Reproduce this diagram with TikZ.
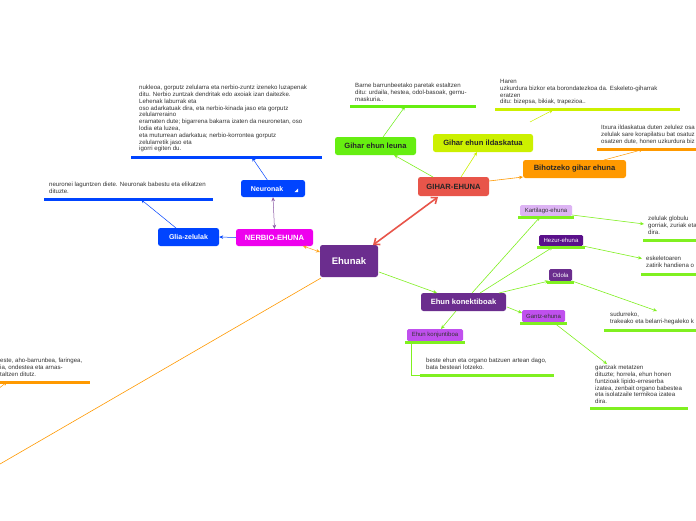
\documentclass[tikz,border=0pt]{standalone}
\usepackage{fontspec}
\setmainfont{Liberation Sans}
\usetikzlibrary{arrows.meta}
\definecolor{cpurple}{HTML}{6B2D8E}
\definecolor{cred}{HTML}{E8554A}
\definecolor{cgreen}{HTML}{66EE11}
\definecolor{cyell}{HTML}{CCF000}
\definecolor{corange}{HTML}{FF9900}
\definecolor{cmag}{HTML}{EE00EE}
\definecolor{cblue}{HTML}{0044FF}
\definecolor{clpur}{HTML}{C050EE}
\definecolor{cdpur}{HTML}{5A108A}
\definecolor{clav}{HTML}{DDB4F4}
\definecolor{cline}{HTML}{80F020}
\definecolor{ctext}{HTML}{333333}
\tikzset{
  box/.style={rounded corners=2.5pt, inner sep=0pt, font=\fontsize{7.6}{8}\selectfont\bfseries},
  sbox/.style={rounded corners=1.5pt, inner sep=0pt, font=\fontsize{6}{6.5}\selectfont, text=ctext},
  note/.style={anchor=north west, inner sep=0pt, align=left, text=ctext, font=\fontsize{6.1}{6.8}\selectfont},
  uline/.style={line width=3pt},
  arr/.style={-{Stealth[length=4pt,width=3.5pt]}, line width=0.6pt},
  darr/.style={{Stealth[length=4pt,width=3.5pt]}-{Stealth[length=4pt,width=3.5pt]}, line width=0.6pt},
}
\begin{document}
\begin{tikzpicture}[x=1pt,y=-1pt]
\useasboundingbox (0,0) rectangle (696,520);
\clip (0,0) rectangle (696,520);
\fill[white] (0,0) rectangle (696,520);

% main nodes
\node[box, fill=cpurple, text=white, minimum width=58pt, minimum height=32pt, font=\fontsize{9.5}{10}\selectfont\bfseries] (ehunak) at (349,261) {Ehunak};
\node[box, fill=cred, text=black!85, minimum width=71pt, minimum height=19pt] (gihar) at (453.5,186.5) {GIHAR-EHUNA};
\node[box, fill=cgreen, text=black!85, minimum width=81pt, minimum height=18pt] (leuna) at (375.5,146) {Gihar ehun leuna};
\node[box, fill=cyell, text=black!85, minimum width=100pt, minimum height=18pt] (ildas) at (483,143) {Gihar ehun ildaskatua};
\node[box, fill=corange, text=black!85, minimum width=103pt, minimum height=18pt] (bihotz) at (574.5,169) {Bihotzeko gihar ehuna};
\node[box, fill=cmag, text=white, minimum width=77pt, minimum height=17pt] (nerbio) at (274.5,237.5) {NERBIO-EHUNA};
\node[box, fill=cblue, text=white, minimum width=64pt, minimum height=17pt, font=\fontsize{7}{8}\selectfont\bfseries] (neuron) at (273,188.5) {\hspace*{-12pt}Neuronak};
\fill[white] (298,188.5) -- (298,192) -- (294.5,192) -- cycle;
\node[box, fill=cblue, text=white, minimum width=61pt, minimum height=18pt, font=\fontsize{7}{8}\selectfont\bfseries] (glia) at (188.5,237) {Glia-zelulak};
\node[box, fill=cpurple, text=white, minimum width=85pt, minimum height=18pt] (konek) at (463.5,302) {Ehun konektiboak};

% small nodes
\node[sbox, fill=clpur, minimum width=56pt, minimum height=12pt] (konj) at (435,335) {Ehun konjuntiboa};
\node[sbox, fill=clpur, minimum width=43pt, minimum height=12pt] (gantz) at (543.5,316) {Gantz-ehuna};
\node[sbox, fill=cpurple, text=white, minimum width=23pt, minimum height=12pt] (odola) at (560.5,275) {Odola};
\node[sbox, fill=cdpur, text=white, minimum width=44pt, minimum height=11pt] (hezur) at (561,240.5) {Hezur-ehuna};
\node[sbox, fill=clav, minimum width=52pt, minimum height=11pt] (karti) at (546,210.5) {Kartilago-ehuna};

% small node underlines
\draw[uline, cline] (405,342.5) -- (465,342.5);
\draw[uline, cline] (520,323.5) -- (567,323.5);
\draw[uline, cline] (547,282.5) -- (574,282.5);
\draw[uline, cline] (537,247.5) -- (585,247.5);
\draw[uline, cline] (518,217.5) -- (574,217.5);

% notes
\node[note] (nneur) at (139,85) {nukleoa, gorputz zelularra eta nerbio-zuntz izeneko luzapenak\\ditu. Nerbio zuntzak dendritak edo axoiak izan daitezke.\\Lehenak laburrak eta\\oso adarkatuak dira, eta nerbio-kinada jaso eta gorputz\\zelularreraino\\eramaten dute; bigarrena bakarra izaten da neuronetan, oso\\lodia eta luzea,\\eta muturrean adarkatua; nerbio-korrontea gorputz\\zelularretik jaso eta\\igorri egiten du.};
\draw[uline, cblue] (131,157) -- (322,157);
\coordinate (uneur) at (252,157.5);

\node[note] (nglia) at (49,182) {neuronei laguntzen diete. Neuronak babestu eta elikatzen\\dituzte.};
\draw[uline, cblue] (44,199) -- (213,199);
\coordinate (uglia) at (141,199.5);

\node[note] (nleun) at (355,83) {Barne barrunbeetako paretak estaltzen\\ditu: urdaila, hestea, odol-basoak, gernu-\\maskuria..};
\draw[uline, cgreen] (350,106) -- (476,106);
\coordinate (uleun) at (405,106.5);

\node[note] (nildas) at (500,79) {Haren\\uzkurdura bizkor eta borondatezkoa da. Eskeleto-giharrak\\eratzen\\ditu: bizepsa, bikiak, trapezioa..};
\draw[uline, cyell] (495,109) -- (680,109);
\coordinate (uildas) at (553,110);

\node[note] (nbihotz) at (601,125) {Itxura ildaskatua duten zelulez osa\\zelulak sare korapilatsu bat osatuz\\osatzen dute, honen uzkurdura biz};
\draw[uline, corange] (597,149) -- (700,149);
\coordinate (ubihotz) at (643,149.5);

\node[note] (nkarti) at (648,216) {zelulak globulu\\gorriak, zuriak eta\\dira.};
\draw[uline, cline] (643,240) -- (700,240);
\coordinate (ukarti) at (644,224);

\node[note] (nhezur) at (646,256) {eskeletoaren\\zatirik handiena o};
\draw[uline, cline] (641,274) -- (700,274);
\coordinate (uhezur) at (642,258.5);

\node[note] (nodola) at (610,312) {sudurreko,\\trakeako eta belarri-hegaleko k};
\draw[uline, cline] (604,330) -- (700,330);
\coordinate (uodola) at (657,311);

\node[note] (ngantz) at (595,365) {gantzak metatzen\\dituzte; horrela, ehun honen\\funtzioak lipido-erreserba\\izatea, zenbait organo babestea\\eta isolatzaile termikoa izatea\\dira.};
\draw[uline, cline] (590,408) -- (688,408);
\coordinate (ugantz) at (607,364);

\node[note] (nkonj) at (426,358) {beste ehun eta organo batzuen artean dago,\\bata besteari lotzeko.};
\draw[uline, cline] (420,375.5) -- (554,375.5);

\node[note] (nleft) at (0,358) {este, aho-barrunbea, faringea,\\ia, ondestea eta arnas-\\taltzen ditutz.};
\draw[uline, corange] (-5,382) -- (90,382);

% connectors between nodes
\draw[{Straight Barb[length=5pt,width=8pt]}-{Straight Barb[length=5pt,width=8pt]}, cred, line width=1.6pt] (373,245) -- (438,197);
\draw[darr, corange!90, line width=0.5pt] (320,252) -- (303,246);
\draw[darr, cpurple!80, line width=0.5pt] (nerbio.north) -- (neuron.south);
\draw[arr, cblue, line width=0.5pt] (nerbio.west) -- (glia.east);
\draw[arr, cline] (379,272) -- (437,293);
\draw[arr, cline] (433,177) -- (394,155);
\draw[arr, cyell] (461,177) -- (477,152);
\draw[arr, corange] (489,181) -- (523,177);
\draw[arr, cline] (472,293) -- (540,217);
\draw[arr, cline] (480,293) -- (553,247);
\draw[arr, cline] (499,293) -- (549,281);
\draw[arr, cline] (507,307) -- (522,313);
\draw[arr, cline] (456,311) -- (441,329);
\draw[cline, line width=0.4pt] (411,344) -- (411,375.5) -- (420,375.5);

% connectors to notes
\draw[arr, cblue, line width=0.5pt] (268,181) -- (uneur);
\draw[arr, cblue, line width=0.5pt] (176,228) -- (uglia);
\draw[arr, cgreen, line width=0.5pt] (383,137) -- (uleun);
\draw[arr, cyell, line width=0.5pt] (530,122) -- (uildas);
\draw[arr, corange, line width=0.5pt] (604,160) -- (ubihotz);
\draw[arr, cline] (572,215) -- (ukarti);
\draw[arr, cline] (583,246) -- (uhezur);
\draw[arr, cline] (572,281) -- (uodola);
\draw[arr, cline] (553,322) -- (ugantz);
\draw[corange, line width=0.6pt] (321,278) -- (0,464);
\draw[arr, corange, line width=0.5pt] (-2,389) -- (7,382);
\end{tikzpicture}
\end{document}
